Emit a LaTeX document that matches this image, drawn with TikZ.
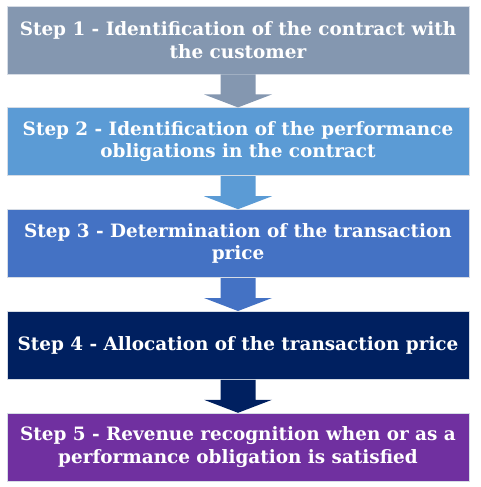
\documentclass[tikz,border=0pt]{standalone}
\usepackage{fontspec}
\setmainfont{DejaVu Serif}
\usepackage{tikz}
\usetikzlibrary{positioning,calc}
\definecolor{stepgray}{HTML}{8497B0}
\definecolor{steplight}{HTML}{5B9BD5}
\definecolor{stepblue}{HTML}{4472C4}
\definecolor{stepnavy}{HTML}{002060}
\definecolor{steppurple}{HTML}{7030A0}
\definecolor{stepedge}{HTML}{D6DCE5}
\tikzset{
  every picture/.style={line join=miter},
  stepbox/.style={draw=stepedge, line width=0.8pt, minimum width=462pt, minimum height=68pt,
    inner sep=0pt, align=center, text=white,
    font=\fontsize{18.4}{22.5}\selectfont\bfseries},
}
% block arrow from the bottom of one box to the top of the next
\newcommand{\blockarrow}[3]{%
  \fill[#3] ($(#1.south)+(-17.5pt,0)$) -- ($(#1.south)+(17.5pt,0)$)
    -- ($(#2.north)+(17.5pt,13pt)$) -- ($(#2.north)+(34pt,13pt)$) -- (#2.north)
    -- ($(#2.north)+(-34pt,13pt)$) -- ($(#2.north)+(-17.5pt,13pt)$) -- cycle;}

\begin{document}
\begin{tikzpicture}[node distance=33pt]
\useasboundingbox (0,0) rectangle (480pt,-487pt);
\node[stepbox,fill=stepgray] (s1) at (238pt,-40pt) {Step 1 - Identification of the contract with\\the customer};
\node[stepbox,fill=steplight,below=of s1] (s2) {Step 2 - Identification of the performance\\obligations in the contract};
\node[stepbox,fill=stepblue,below=of s2] (s3) {Step 3 - Determination of the transaction\\price};
\node[stepbox,fill=stepnavy,below=of s3] (s4) {Step 4 - Allocation of the transaction price};
\node[stepbox,fill=steppurple,below=of s4] (s5) {Step 5 - Revenue recognition when or as a\\performance obligation is satisfied};
\blockarrow{s1}{s2}{stepgray}
\blockarrow{s2}{s3}{steplight}
\blockarrow{s3}{s4}{stepblue}
\blockarrow{s4}{s5}{stepnavy}
\end{tikzpicture}
\end{document}
